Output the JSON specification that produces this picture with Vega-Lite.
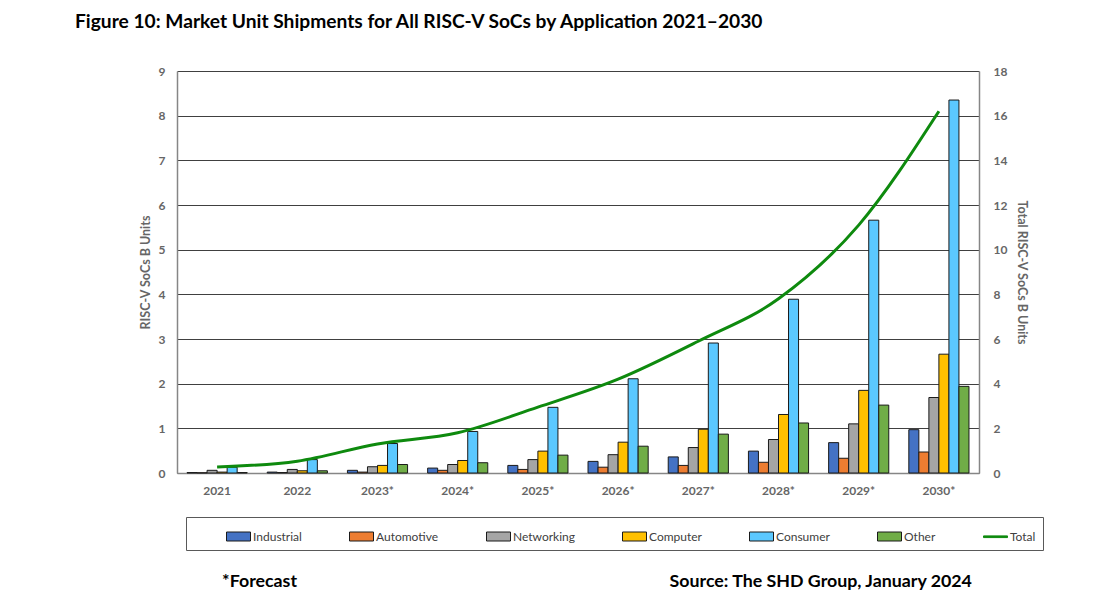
{
  "$schema": "https://vega.github.io/schema/vega-lite/v6.json",
  "width": 802,
  "height": 402,
  "padding": {"left": 75, "top": 12, "right": 10, "bottom": 10},
  "background": "white",
  "config": {"view": {"stroke": null}, "font": "Lato"},
  "title": {
    "text": "Figure 10: Market Unit Shipments for All RISC-V SoCs by Application 2021–2030",
    "anchor": "start",
    "frame": "group",
    "dx": -102,
    "offset": 33,
    "fontSize": 19.2,
    "fontWeight": "bold",
    "color": "black",
    "font": "Lato"
  },
  "datasets": {
    "bars": [
      {"year": "2021", "series": "Industrial", "value": 0.01},
      {"year": "2021", "series": "Automotive", "value": 0.005},
      {"year": "2021", "series": "Networking", "value": 0.06},
      {"year": "2021", "series": "Computer", "value": 0.02},
      {"year": "2021", "series": "Consumer", "value": 0.13},
      {"year": "2021", "series": "Other", "value": 0.01},
      {"year": "2022", "series": "Industrial", "value": 0.02},
      {"year": "2022", "series": "Automotive", "value": 0.01},
      {"year": "2022", "series": "Networking", "value": 0.08},
      {"year": "2022", "series": "Computer", "value": 0.05},
      {"year": "2022", "series": "Consumer", "value": 0.3},
      {"year": "2022", "series": "Other", "value": 0.05},
      {"year": "2023*", "series": "Industrial", "value": 0.06},
      {"year": "2023*", "series": "Automotive", "value": 0.02},
      {"year": "2023*", "series": "Networking", "value": 0.14},
      {"year": "2023*", "series": "Computer", "value": 0.17},
      {"year": "2023*", "series": "Consumer", "value": 0.66},
      {"year": "2023*", "series": "Other", "value": 0.19},
      {"year": "2024*", "series": "Industrial", "value": 0.11},
      {"year": "2024*", "series": "Automotive", "value": 0.06},
      {"year": "2024*", "series": "Networking", "value": 0.19},
      {"year": "2024*", "series": "Computer", "value": 0.28},
      {"year": "2024*", "series": "Consumer", "value": 0.93},
      {"year": "2024*", "series": "Other", "value": 0.23},
      {"year": "2025*", "series": "Industrial", "value": 0.17},
      {"year": "2025*", "series": "Automotive", "value": 0.08},
      {"year": "2025*", "series": "Networking", "value": 0.3},
      {"year": "2025*", "series": "Computer", "value": 0.49},
      {"year": "2025*", "series": "Consumer", "value": 1.47},
      {"year": "2025*", "series": "Other", "value": 0.4},
      {"year": "2026*", "series": "Industrial", "value": 0.26},
      {"year": "2026*", "series": "Automotive", "value": 0.13},
      {"year": "2026*", "series": "Networking", "value": 0.41},
      {"year": "2026*", "series": "Computer", "value": 0.69},
      {"year": "2026*", "series": "Consumer", "value": 2.11},
      {"year": "2026*", "series": "Other", "value": 0.6},
      {"year": "2027*", "series": "Industrial", "value": 0.36},
      {"year": "2027*", "series": "Automotive", "value": 0.17},
      {"year": "2027*", "series": "Networking", "value": 0.57},
      {"year": "2027*", "series": "Computer", "value": 0.98},
      {"year": "2027*", "series": "Consumer", "value": 2.91},
      {"year": "2027*", "series": "Other", "value": 0.87},
      {"year": "2028*", "series": "Industrial", "value": 0.49},
      {"year": "2028*", "series": "Automotive", "value": 0.24},
      {"year": "2028*", "series": "Networking", "value": 0.75},
      {"year": "2028*", "series": "Computer", "value": 1.31},
      {"year": "2028*", "series": "Consumer", "value": 3.89},
      {"year": "2028*", "series": "Other", "value": 1.12},
      {"year": "2029*", "series": "Industrial", "value": 0.68},
      {"year": "2029*", "series": "Automotive", "value": 0.33},
      {"year": "2029*", "series": "Networking", "value": 1.1},
      {"year": "2029*", "series": "Computer", "value": 1.85},
      {"year": "2029*", "series": "Consumer", "value": 5.66},
      {"year": "2029*", "series": "Other", "value": 1.52},
      {"year": "2030*", "series": "Industrial", "value": 0.97},
      {"year": "2030*", "series": "Automotive", "value": 0.47},
      {"year": "2030*", "series": "Networking", "value": 1.69},
      {"year": "2030*", "series": "Computer", "value": 2.66},
      {"year": "2030*", "series": "Consumer", "value": 8.35},
      {"year": "2030*", "series": "Other", "value": 1.94}
    ],
    "totals": [
      {"year": "2021", "total": 0.27},
      {"year": "2022", "total": 0.53},
      {"year": "2023*", "total": 1.3},
      {"year": "2024*", "total": 1.8},
      {"year": "2025*", "total": 2.95},
      {"year": "2026*", "total": 4.2},
      {"year": "2027*", "total": 5.9},
      {"year": "2028*", "total": 7.8},
      {"year": "2029*", "total": 11.1},
      {"year": "2030*", "total": 16.2}
    ]
  },
  "layer": [
    {
      "data": {"name": "bars"},
      "mark": {"type": "bar", "stroke": "#1a1a1a", "strokeWidth": 1},
      "encoding": {
        "x": {
          "field": "year",
          "type": "nominal",
          "sort": null,
          "scale": {"paddingInner": 0.25, "paddingOuter": 0.125},
          "axis": {
            "title": null,
            "labelAngle": 0,
            "ticks": false,
            "domainColor": "#868686",
            "domainWidth": 1.5,
            "labelPadding": 12,
            "labelFontSize": 12,
            "labelFontWeight": "bold",
            "labelColor": "#666666"
          }
        },
        "xOffset": {
          "field": "series",
          "type": "nominal",
          "scale": {"domain": ["Industrial", "Automotive", "Networking", "Computer", "Consumer", "Other"], "paddingInner": 0}
        },
        "y": {
          "field": "value",
          "type": "quantitative",
          "scale": {"domain": [0, 9]},
          "axis": {
            "title": "RISC-V SoCs B Units",
            "values": [0, 1, 2, 3, 4, 5, 6, 7, 8, 9],
            "grid": true,
            "gridColor": "#404040",
            "gridWidth": 1,
            "ticks": false,
            "domainColor": "#868686",
            "domainWidth": 1.5,
            "labelPadding": 12,
            "labelFontSize": 12,
            "labelFontWeight": "bold",
            "labelColor": "#666666",
            "titlePadding": 6,
            "titleFontSize": 12.5,
            "titleFontWeight": "bold",
            "titleColor": "#666666"
          }
        },
        "color": {
          "field": "series",
          "type": "nominal",
          "scale": {
            "domain": ["Industrial", "Automotive", "Networking", "Computer", "Consumer", "Other"],
            "range": ["#4472C4", "#ED7D31", "#A5A5A5", "#FFC000", "#5BC8FF", "#70AD47"]
          },
          "legend": null
        }
      }
    },
    {
      "data": {"name": "totals"},
      "mark": {"type": "line", "interpolate": "monotone", "color": "#0E8A0E", "strokeWidth": 3},
      "encoding": {
        "x": {"field": "year", "type": "nominal", "sort": null},
        "y": {
          "field": "total",
          "type": "quantitative",
          "scale": {"domain": [0, 18]},
          "axis": {
            "orient": "right",
            "title": "Total RISC-V SoCs B Units",
            "values": [0, 2, 4, 6, 8, 10, 12, 14, 16, 18],
            "grid": false,
            "ticks": false,
            "domainColor": "#868686",
            "domainWidth": 1.5,
            "labelPadding": 14,
            "labelFontSize": 12,
            "labelFontWeight": "bold",
            "labelColor": "#666666",
            "titlePadding": 8,
            "titleFontSize": 12.5,
            "titleFontWeight": "bold",
            "titleColor": "#666666"
          }
        }
      }
    },
    {
      "data": {"values": [{"series": "Total"}]},
      "mark": {"type": "point", "filled": true, "opacity": 0, "size": 1},
      "encoding": {
        "x": {"datum": "2021", "type": "nominal"},
        "y": {"datum": 0, "type": "quantitative", "scale": {"domain": [0, 9]}, "axis": null},
        "fill": {
          "field": "series",
          "type": "nominal",
          "scale": {
            "domain": ["Industrial", "Automotive", "Networking", "Computer", "Consumer", "Other", "Total"],
            "range": ["#4472C4", "#ED7D31", "#A5A5A5", "#FFC000", "#5BC8FF", "#70AD47", "#0E8A0E"]
          },
          "legend": {
            "orient": "none",
            "legendX": 9,
            "legendY": 446,
            "direction": "horizontal",
            "columns": 7,
            "title": " ",
            "titleOrient": "left",
            "titlePadding": 33,
            "padding": 7,
            "strokeColor": "#595959",
            "columnPadding": 45,
            "symbolSize": 576,
            "symbolOpacity": 1,
            "symbolStrokeWidth": 1,
            "labelOffset": 2,
            "labelFontSize": 12,
            "labelColor": "#404040"
          }
        },
        "stroke": {
          "field": "series",
          "type": "nominal",
          "scale": {
            "domain": ["Industrial", "Automotive", "Networking", "Computer", "Consumer", "Other", "Total"],
            "range": ["#1a1a1a", "#1a1a1a", "#1a1a1a", "#1a1a1a", "#1a1a1a", "#1a1a1a", "#0E8A0E"]
          },
          "legend": {"symbolFillColor": "#0E8A0E"}
        },
        "shape": {
          "field": "series",
          "type": "nominal",
          "scale": {
            "domain": ["Industrial", "Automotive", "Networking", "Computer", "Consumer", "Other", "Total"],
            "range": ["M-1,-0.375H1V0.375H-1Z", "M-1,-0.375H1V0.375H-1Z", "M-1,-0.375H1V0.375H-1Z", "M-1,-0.375H1V0.375H-1Z", "M-1,-0.375H1V0.375H-1Z", "M-1,-0.375H1V0.375H-1Z", "M-1,-0.07H1V0.07H-1Z"]
          },
          "legend": {"symbolFillColor": "#0E8A0E"}
        }
      }
    },
    {
      "data": {"values": [{"note": "*Forecast"}]},
      "mark": {"type": "text", "align": "left", "baseline": "alphabetic", "dx": 5, "fontSize": 17.8, "fontWeight": "bold", "color": "black"},
      "encoding": {
        "x": {"datum": "2021", "type": "nominal"},
        "y": {"datum": -2.55, "type": "quantitative", "scale": {"domain": [0, 9]}, "axis": null},
        "text": {"field": "note"}
      }
    },
    {
      "data": {"values": [{"note": "Source: The SHD Group, January 2024"}]},
      "mark": {"type": "text", "align": "right", "baseline": "alphabetic", "dx": 33, "fontSize": 17.8, "fontWeight": "bold", "color": "black"},
      "encoding": {
        "x": {"datum": "2030*", "type": "nominal"},
        "y": {"datum": -2.55, "type": "quantitative", "scale": {"domain": [0, 9]}, "axis": null},
        "text": {"field": "note"}
      }
    }
  ],
  "resolve": {"scale": {"y": "independent"}}
}
